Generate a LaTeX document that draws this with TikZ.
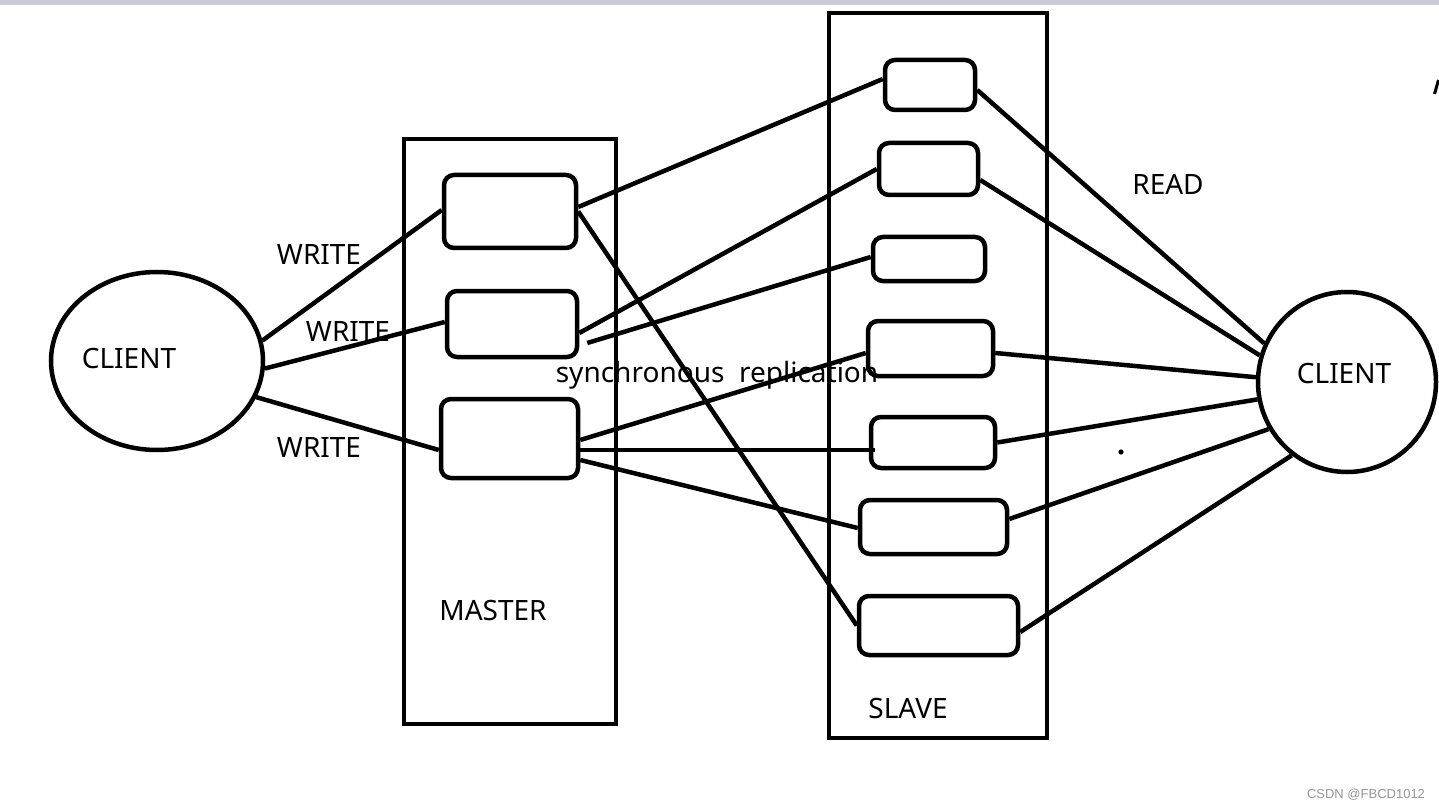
\documentclass[tikz,border=0pt]{standalone}
\usepackage{fontspec}
\setmainfont{Noto Sans}
\newfontfamily\wmfont{Liberation Sans}
\usetikzlibrary{shapes.geometric}
\definecolor{topband}{RGB}{200,205,218}
\definecolor{wmgray}{RGB}{150,150,150}
\tikzset{
  box/.style={draw, line width=4.5pt, rounded corners=10pt, inner sep=0pt, rectangle},
  frame/.style={draw, line width=4.5pt, inner sep=0pt, rectangle},
  client/.style={draw, line width=4.5pt, ellipse, inner sep=0pt},
  conn/.style={line width=4.5pt},
  lbl/.style={font=\fontsize{28}{32}\selectfont, inner sep=0pt}
}
\begin{document}
\begin{tikzpicture}[x=1pt,y=-1pt]
\useasboundingbox (0,0) rectangle (1439,810);
\fill[white] (0,0) rectangle (1439,810);
\fill[topband] (0,0) rectangle (1439,5);
% containers
\node[frame, minimum width=212pt, minimum height=585pt] (master) at (510,431.5) {};
\node[frame, minimum width=218pt, minimum height=725pt] (slave) at (938,375.5) {};
% clients
\node[client, minimum width=212pt, minimum height=178pt] (cl) at (157,361) {};
\node[client, minimum width=178pt, minimum height=180pt] (cr) at (1347,382) {};
% master boxes
\node[box, minimum width=132pt, minimum height=73pt] (m1) at (510,211.5) {};
\node[box, minimum width=130pt, minimum height=66pt] (m2) at (512,324) {};
\node[box, minimum width=137pt, minimum height=79pt] (m3) at (509.5,438.5) {};
% slave boxes
\node[box, minimum width=90pt, minimum height=50pt] (s1) at (930,85) {};
\node[box, minimum width=99pt, minimum height=52pt] (s2) at (928.5,169) {};
\node[box, minimum width=112pt, minimum height=44pt] (s3) at (929,259) {};
\node[box, minimum width=125pt, minimum height=55pt] (s4) at (930.5,348.5) {};
\node[box, minimum width=124pt, minimum height=51pt] (s5) at (933,442.5) {};
\node[box, minimum width=147pt, minimum height=54pt] (s6) at (933.5,527) {};
\node[box, minimum width=159pt, minimum height=59pt] (s7) at (938.5,625.5) {};
% left client to master
\draw[conn] (cl.11) -- ([yshift=1.5pt]m1.west);
\draw[conn] (cl.-4) -- ([yshift=2pt]m2.west);
\draw[conn] (cl.-20) -- ([yshift=-11.5pt]m3.west);
% master to slave
\draw[conn] ([yshift=4.5pt]m1.east) -- ([yshift=6pt]s1.west);
\draw[conn] ([yshift=0pt]m1.east) -- (s7.west);
\draw[conn] ([yshift=-9pt]m2.east) -- (s2.west);
\draw[conn] ([xshift=8pt,yshift=-19pt]m2.east) -- ([yshift=2pt]s3.west);
\draw[conn] ([yshift=-1.5pt]m3.east) -- ([yshift=-4.5pt]s4.west);
\draw[conn] ([yshift=-11.5pt]m3.east) -- ([xshift=6pt,yshift=-7.5pt]s5.west);
\draw[conn] ([yshift=-21.5pt]m3.east) -- ([yshift=-1pt]s6.west);
% slave to right client
\draw[conn] ([yshift=-5pt]s1.east) -- (cr.155);
\draw[conn] ([yshift=-11pt]s2.east) -- (cr.163);
\draw[conn] ([yshift=-4.5pt]s4.east) -- (cr.177);
\draw[conn] (s5.east) -- (cr.191);
\draw[conn] ([yshift=8pt]s6.east) -- (cr.211);
\draw[conn] ([yshift=-6.5pt]s7.east) -- (cr.233);
% labels
\node[lbl] (tcl) at (129,359) {CLIENT};
\node[lbl] (tcr) at (1344,374) {CLIENT};
\node[lbl] (w1) at (319,255) {WRITE};
\node[lbl] (w2) at (348,332) {WRITE};
\node[lbl] (w3) at (319,448) {WRITE};
\node[lbl] (rd) at (1168,184) {READ};
\node[lbl] (tm) at (493,610) {MASTER};
\node[lbl] (ts) at (908,708) {SLAVE};
\node[lbl] (sync) at (717,375) {synchronous\ \ replication};
% small marks
\fill (1121,452) circle (2.6pt);
\draw[line width=3pt] (1434.5,94) -- (1438.5,80);
\node[font=\wmfont\fontsize{13}{15}\selectfont, text=wmgray, inner sep=0pt] (wm) at (1366,795) {CSDN @FBCD1012};
\end{tikzpicture}
\end{document}
